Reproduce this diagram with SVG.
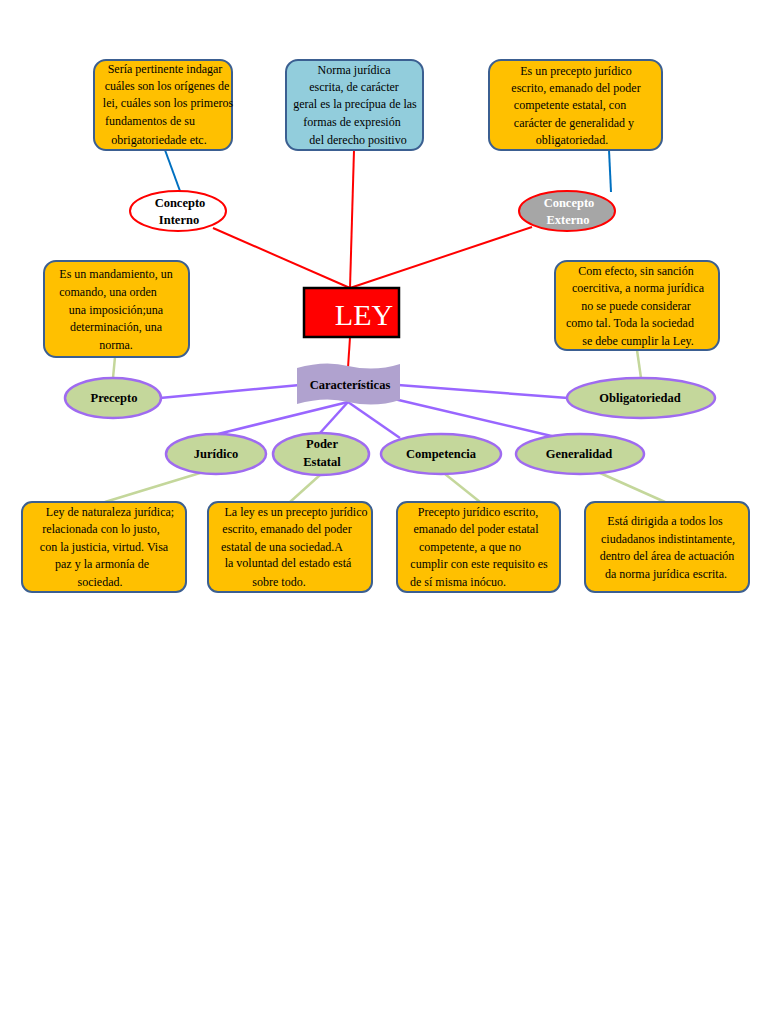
<svg xmlns="http://www.w3.org/2000/svg" width="768" height="1024" viewBox="0 0 768 1024">
<style>
text{font-family:"Liberation Serif","Times New Roman",serif;font-size:12px;fill:#000;text-anchor:middle}
.b{font-weight:bold;font-size:12.5px}
.box{fill:#ffc000;stroke:#3b5f91;stroke-width:2}
.blue{fill:#92cddc;stroke:#3b5f91;stroke-width:2}
.ov{fill:#c4d79b;stroke:#9f6bf0;stroke-width:2.5}
.r{stroke:#ff0000;stroke-width:2;fill:none}
.bl{stroke:#0070c0;stroke-width:2;fill:none}
.p{stroke:#9966ff;stroke-width:2.5;fill:none}
.g{stroke:#c4d79b;stroke-width:2.5;fill:none}
</style>
<rect width="768" height="1024" fill="#fff"/>
<g id="connectors">
<line class="r" x1="350" y1="288" x2="213" y2="228"/>
<line class="r" x1="350" y1="288" x2="532" y2="227"/>
<line class="r" x1="350" y1="288" x2="354" y2="150"/>
<line class="r" x1="350" y1="337" x2="348" y2="368"/>
<line class="bl" x1="165" y1="150" x2="180" y2="191"/>
<line class="bl" x1="609" y1="150" x2="611" y2="192"/>
<line class="p" x1="300" y1="385" x2="160" y2="398"/>
<line class="p" x1="398" y1="385" x2="568" y2="398"/>
<line class="p" x1="348" y1="402" x2="218" y2="434"/>
<line class="p" x1="348" y1="402" x2="320" y2="433"/>
<line class="p" x1="348" y1="402" x2="400" y2="438"/>
<line class="p" x1="390" y1="398" x2="560" y2="438"/>
<line class="g" x1="113" y1="378" x2="115" y2="357"/>
<line class="g" x1="641" y1="378" x2="637" y2="350"/>
<line class="g" x1="200" y1="473" x2="105" y2="502"/>
<line class="g" x1="320" y1="475" x2="290" y2="502"/>
<line class="g" x1="445" y1="474" x2="480" y2="502"/>
<line class="g" x1="600" y1="473" x2="665" y2="502"/>
</g>
<g id="box-origenes"><rect class="box" x="94" y="60" width="138" height="90" rx="12"/>
<text x="165" y="73" font-size="10">Sería pertinente indagar</text>
<text x="167" y="90" font-size="10">cuáles son los orígenes de</text>
<text x="168" y="107" font-size="11">lei, cuáles son los primeros</text>
<text x="150" y="125">fundamentos de su</text>
<text x="159" y="144">obrigatoriedade etc.</text></g>
<g id="box-norma"><rect class="blue" x="286" y="60" width="137" height="90" rx="12"/>
<text x="354" y="74">Norma jurídica</text>
<text x="354" y="91">escrita, de carácter</text>
<text x="355" y="108" font-size="11">geral es la precípua de las</text>
<text x="352" y="126">formas de expresión</text>
<text x="358" y="144">del derecho positivo</text></g>
<g id="box-precepto-juridico"><rect class="box" x="489" y="60" width="173" height="90" rx="12"/>
<text x="576" y="75">Es un precepto jurídico</text>
<text x="576" y="92">escrito, emanado del poder</text>
<text x="570" y="109">competente estatal, con</text>
<text x="574" y="127">carácter de generalidad y</text>
<text x="572" y="144">obligatoriedad.</text></g>
<g id="concepto-interno"><ellipse cx="178" cy="211" rx="48" ry="20" fill="#fff" stroke="#ff0000" stroke-width="2"/>
<text class="b" x="180" y="207">Concepto</text><text class="b" x="179" y="224">Interno</text></g>
<g id="concepto-externo"><ellipse cx="567" cy="211" rx="48" ry="20" fill="#a6a6a6" stroke="#ff0000" stroke-width="2"/>
<text class="b" x="569" y="207" style="fill:#fff">Concepto</text><text class="b" x="568" y="224" style="fill:#fff">Externo</text></g>
<g id="ley"><rect x="304" y="288" width="95" height="49" fill="#ff0000" stroke="#000" stroke-width="2.5"/>
<text x="364" y="325" style="fill:#fff;font-size:30px">LEY</text></g>
<g id="caracteristicas"><path d="M297,368 Q325,360 348,366 Q375,372 400,364 L400,400 Q375,408 348,402 Q325,396 297,404 Z" fill="#b0a2cf"/>
<text class="b" x="350" y="389">Características</text></g>
<g id="box-mandamiento"><rect class="box" x="44" y="261" width="145" height="96" rx="12"/>
<text x="116" y="278">Es un mandamiento, un</text>
<text x="108" y="296">comando, una orden</text>
<text x="116" y="314">una imposición;una</text>
<text x="116" y="331">determinación, una</text>
<text x="116" y="349">norma.</text></g>
<g id="box-sancion"><rect class="box" x="555" y="261" width="164" height="89" rx="12"/>
<text x="636" y="275">Com efecto, sin sanción</text>
<text x="638" y="292">coercitiva, a norma jurídica</text>
<text x="636" y="310">no se puede considerar</text>
<text x="630" y="327">como tal. Toda la sociedad</text>
<text x="638" y="345">se debe cumplir la Ley.</text></g>
<g id="precepto"><ellipse class="ov" cx="113" cy="398" rx="48" ry="20"/><text class="b" x="114" y="402">Precepto</text></g>
<g id="obligatoriedad"><ellipse class="ov" cx="641" cy="398" rx="74" ry="20"/><text class="b" x="640" y="402">Obligatoriedad</text></g>
<g id="juridico"><ellipse class="ov" cx="216" cy="454" rx="50" ry="20"/><text class="b" x="216" y="458">Jurídico</text></g>
<g id="poder-estatal"><ellipse class="ov" cx="321" cy="454" rx="48" ry="21"/><text class="b" x="322" y="448">Poder</text><text class="b" x="322" y="466">Estatal</text></g>
<g id="competencia"><ellipse class="ov" cx="441" cy="454" rx="60" ry="20"/><text class="b" x="441" y="458">Competencia</text></g>
<g id="generalidad"><ellipse class="ov" cx="580" cy="454" rx="64" ry="20"/><text class="b" x="579" y="458">Generalidad</text></g>
<g id="box-juridico"><rect class="box" x="22" y="502" width="164" height="90" rx="10"/>
<text x="110" y="516">Ley de naturaleza jurídica;</text>
<text x="101" y="533">relacionada con lo justo,</text>
<text x="104" y="551">con la justicia, virtud. Visa</text>
<text x="102" y="568">paz y la armonía de</text>
<text x="100" y="586">sociedad.</text></g>
<g id="box-poder"><rect class="box" x="208" y="502" width="164" height="90" rx="10"/>
<text x="296" y="516">La ley es un precepto jurídico</text>
<text x="287" y="533">escrito, emanado del poder</text>
<text x="282" y="551">estatal de una sociedad.A</text>
<text x="288" y="567" font-size="10.5">la voluntad del estado está</text>
<text x="279" y="586">sobre todo.</text></g>
<g id="box-competencia"><rect class="box" x="397" y="502" width="163" height="90" rx="10"/>
<text x="478" y="516">Precepto   jurídico   escrito,</text>
<text x="476" y="533">emanado  del  poder  estatal</text>
<text x="470" y="551">competente,   a   que   no</text>
<text x="479" y="568">cumplir  con  este  requisito  es</text>
<text x="458" y="586">de sí misma inócuo.</text></g>
<g id="box-generalidad"><rect class="box" x="585" y="502" width="164" height="90" rx="10"/>
<text x="665" y="525">Está dirigida a todos los</text>
<text x="668" y="543">ciudadanos indistintamente,</text>
<text x="667" y="560">dentro del área de actuación</text>
<text x="666" y="578">da norma jurídica escrita.</text></g>
</svg>
